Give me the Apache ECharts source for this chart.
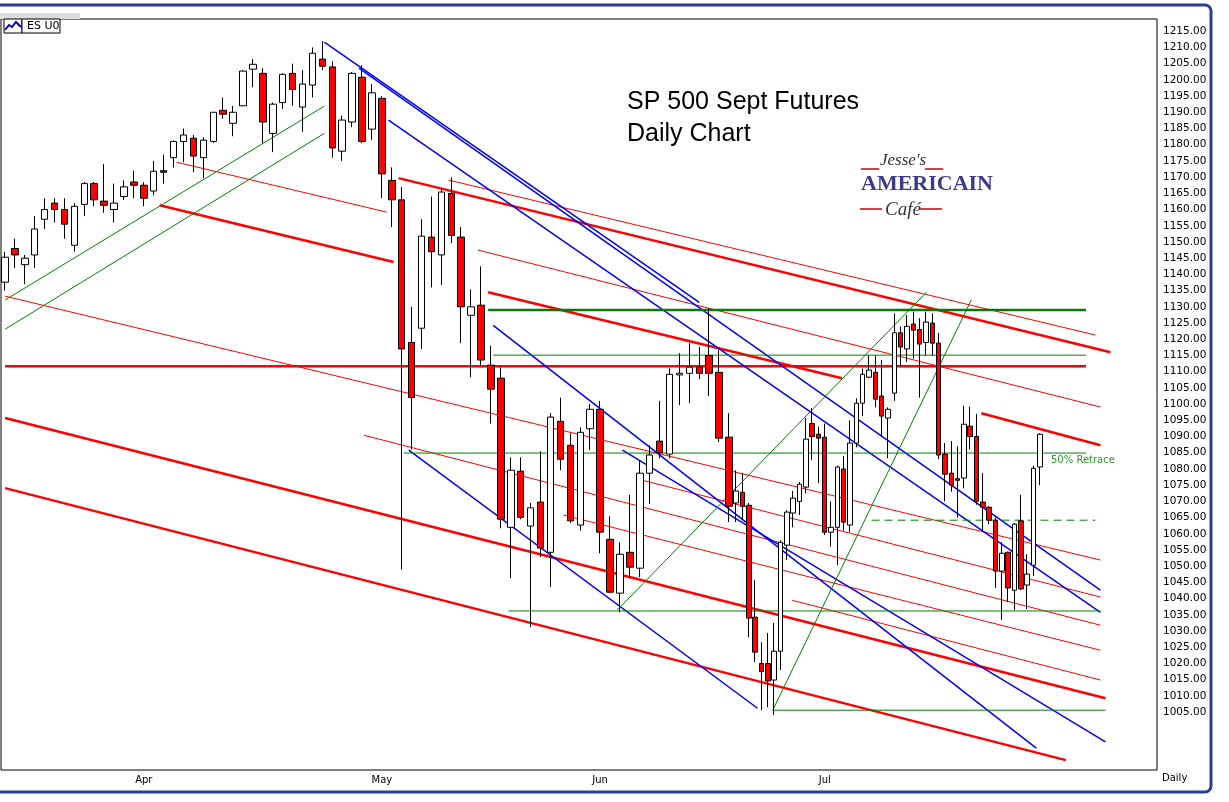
<!DOCTYPE html>
<html><head><meta charset="utf-8">
<script src="https://cdn.jsdelivr.net/npm/echarts@6/dist/echarts.min.js"></script>
<style>html,body{margin:0;padding:0;background:#fff}#c{width:1229px;height:802px}</style>
</head><body><div id="c"></div>
<script>
const opens  = [1137.6,1148,1143,1146,1157,1162,1160,1149,1161.6,1168,1162.6,1160,1164,1168.5,1167.5,1165.7,1172,1176,1181,1182,1176,1181,1190.6,1186.6,1192,1203.3,1202,1183.5,1193,1202,1191.6,1198.4,1206.4,1204,1178,1187,1200.8,1184.8,1194.3,1169,1163,1119,1123.4,1151.5,1146,1165,1151.5,1127.4,1130.5,1112,1108,1062,1079.3,1062.4,1069.8,1054.3,1094.7,1087.3,1062.7,1092.4,1098.4,1058.3,1041.7,1054.3,1049.4,1078.7,1088.6,1084.6,1109,1109.5,1111.4,1115,1109.8,1089.8,1069.5,1072.8,1068.8,1034.3,1020,1020,1014.9,1023.8,1056.5,1066.4,1070,1074.4,1094,1090.7,1089.8,1060.5,1062,1080,1062.7,1088,1100.3,1108.3,1109.8,1102.5,1095.7,1103.4,1122,1117,1124.7,1123,1119,1125,1118.8,1084.6,1078.7,1077,1077.2,1093.2,1090,1069.8,1068.2,1064.2,1048.5,1054.3,1042.6,1064,1044.2,1050.3,1080.6];
const closes = [1145.3,1146,1145,1154,1160,1160,1155.5,1161,1168,1163,1161.3,1162,1167,1167.5,1163.5,1171.8,1171.5,1181,1183,1176.5,1181.4,1190,1189.4,1190,1202.7,1204.8,1187,1192.5,1201.7,1197,1198.7,1208.2,1204.2,1179,1187.6,1202,1181,1196,1171,1163,1117,1102,1151.8,1147,1165.4,1152,1130,1130,1113.6,1104.6,1064.5,1079.6,1065.1,1068,1055.6,1096,1083,1064,1091.3,1098.4,1060.5,1042,1053.7,1049.7,1078.7,1084.3,1085,1109.2,1109.5,1111.4,1109.5,1109.5,1089.5,1068.5,1073.2,1068.5,1034,1023.5,1017.5,1014.6,1023.8,1057.4,1066.7,1071,1075.3,1089.2,1090,1089.5,1060.5,1062,1080.6,1063.6,1088,1100.3,1109.2,1110.5,1101.5,1096.3,1098.4,1122,1117.6,1124,1122.8,1118.5,1125.3,1118.8,1084.3,1078.4,1075,1076.5,1093.8,1090,1070,1068.2,1064.2,1048.5,1054,1043.3,1063,1043,1047.6,1080.2,1090.7];
const lows   = [1135,1142,1137,1142,1154,1156,1151,1147,1158,1161,1159,1156,1163,1163.5,1161,1164.4,1168,1173,1174.6,1171.5,1169.7,1180.5,1188,1182.6,1191.9,1197.7,1180.5,1177.7,1191,1192,1184,1194.6,1203,1176,1175,1185.4,1180.5,1181.4,1163.5,1154.6,1049,1086,1117,1136,1136.7,1149.6,1118.8,1108.3,1112,1094,1061.7,1046.3,1064.5,1031.2,1052.8,1043.6,1079.6,1063.3,1061,1085.8,1054,1041.7,1035.8,1046.3,1046.6,1069.2,1083.3,1083.3,1099.7,1100.3,1107.7,1102.5,1088.3,1063.6,1063.6,1064.2,1028.1,1020.4,1005.6,1006.5,1004.1,1018,1052,1062,1065.8,1072.5,1082.7,1075.6,1059.6,1056,1050.3,1061,1060.5,1086.7,1096.3,1108,1099,1090,1083.3,1101,1112,1113,1114,1102,1115,1115,1083,1070,1073,1065,1074,1086,1069,1061,1063,1043.3,1033.4,1039,1036.5,1042.6,1036.8,1047,1075];
const highs  = [1147,1151,1146,1158,1163.5,1163.5,1163.5,1162,1168.5,1168.5,1174,1168,1169,1172,1168.4,1175,1177,1181.4,1185,1183,1182.3,1190,1194.6,1192,1203,1206.4,1203.6,1193,1202,1205,1203,1210,1212,1205.7,1189,1202.4,1204.5,1198.7,1195,1173,1167,1130,1157,1164,1166.6,1170,1154.6,1135.4,1142.5,1118,1111.4,1083.6,1083.6,1069.5,1085.5,1097.2,1102,1091,1092.8,1100,1101,1065.4,1057.4,1072,1082.7,1087.3,1101,1111,1115.7,1118.8,1117.6,1129.6,1116.6,1097.2,1079.6,1078.7,1069.5,1045.7,1026.6,1029.4,1032.5,1058,1067.3,1073.2,1076,1095.7,1098.8,1093,1094,1070,1081,1084,1095,1101.8,1111,1115,1115,1113.6,1099,1128,1124,1127.5,1128.5,1126.5,1128.5,1128,1122,1088,1088.6,1087,1099.5,1099.2,1097,1078.7,1068.5,1065,1057.4,1054.5,1063.3,1072,1053.7,1081,1091];
// the reference plot draws the early bars wider apart than the later ones
const SPLIT = 74;                        // bars before this index use the wide section
const monthTicksA = {14:'Apr', 38:'May', 60:'Jun'};
const monthTicksB = {14:'Jul'};          // index within the narrow section
const yTicksMin = 1005, yTicksMax = 1215;
const LINE_SLOTS = 137;
// trend lines: [startSlot, startValue, endSlot, endValue]
const redThick = [[0.1,1074.1,125.7,990.2],[0.1,1095.7,130.4,1009.3],[0.1,1111.7,128.1,1111.7],[18.4,1161.3,46.1,1143.8],[46.7,1169.7,131,1116.0],[57.3,1134.5,99.2,1108.0],[115.7,1097.2,129.8,1087.3]];
const redThin = [[0.1,1133.3,129.8,1051.9],[20.4,1174.6,45.3,1159.2],[52.6,1169.1,129.2,1121.3],[56.1,1147.5,129.8,1099.1],[42.6,1090.4,129.8,1031.8],[66.2,1065.8,129.8,1024.1],[93.3,1039.5,129.8,1014.9],[75.6,1076.5,129.8,1040.5]];
const blueLines = [[37.9,1211.6,82.3,1131.4],[42,1203.6,129.8,1042.6],[45.5,1187.6,129.8,1035.8],[47.9,1085.8,89.2,1006.2],[57.9,1124.3,122.2,993.9],[73.2,1085.8,130.4,995.8]];
const greenThick = [[57.3,1129.0,128.1,1129.0]];
const greenThin = [[57.9,1115.1,128.1,1115.1],[47.3,1084.9,128.1,1084.9],[59.7,1036.2,129.8,1036.2],[91,1005.6,130.4,1005.6],[0.1,1132.1,37.9,1191.9],[0.1,1123.1,37.9,1183.5],[72.6,1036.5,109.2,1134.5],[91,1005.6,114.5,1132.1]];
const greenDashed = [[102.7,1064.2,129.2,1064.2]];

const candles = opens.map((o, i) => [o, closes[i], lows[i], highs[i]]);
const candA = candles.slice(0, SPLIT), candB = candles.slice(SPLIT);
const catsA = candA.map((_, i) => monthTicksA[i] || String(i));
const catsB = candB.map((_, i) => monthTicksB[i] || String(i));
const YMIN = 985, YMAX = 1220;
function seg(arr, color, width, type) {
  return arr.map(s => ({type:'line', xAxisIndex:0, yAxisIndex:0, data:[[s[0],s[1]],[s[2],s[3]]],
    symbol:'none', silent:true, z:1, lineStyle:{color, width, type:type||'solid'}}));
}
const lbl = {interval:0, margin:-2, fontFamily:'DejaVu Sans', fontSize:10, color:'#000', formatter:v => isNaN(+v) ? v : ''};
const hiddenY = i => ({type:'value', gridIndex:i, min:YMIN, max:YMAX, show:false});
const chart = echarts.init(document.getElementById('c'));
chart.setOption({
  animation:false,
  grid:[{left:-5, width:1162, top:15, bottom:25},
        {left:-6, width:740, top:15, bottom:25},
        {left:733, width:310, top:15, bottom:25}],
  xAxis:[{type:'value', gridIndex:0, min:-0.5, max:LINE_SLOTS-0.5, show:false},
         {type:'category', gridIndex:1, data:catsA, axisLine:{show:false}, axisTick:{show:false}, axisLabel:lbl},
         {type:'category', gridIndex:2, data:catsB, axisLine:{show:false}, axisTick:{show:false}, axisLabel:lbl}],
  yAxis:[{type:'value', gridIndex:0, position:'right', min:YMIN, max:YMAX, interval:5,
    axisLine:{show:false}, axisTick:{show:false}, splitLine:{show:false},
    axisLabel:{margin:6, fontFamily:'DejaVu Sans', fontSize:10.5, color:'#000',
      formatter:v => (v>=yTicksMin && v<=yTicksMax) ? v.toFixed(2) : ''}},
    hiddenY(1), hiddenY(2)],
  graphic:[
    {type:'rect', shape:{x:1,y:19,width:1156,height:751}, style:{fill:'none',stroke:'#000',lineWidth:1}, silent:true},
    {type:'rect', shape:{x:-5,y:5,width:1216,height:787,r:6}, style:{fill:'none',stroke:'#2a3f8f',lineWidth:3}, silent:true},
    {type:'rect', shape:{x:0,y:13,width:80,height:6}, style:{fill:'#ddd'}},
    {type:'rect', shape:{x:4,y:19,width:18,height:14}, style:{fill:'#fff',stroke:'#000',lineWidth:1}},
    {type:'polyline', shape:{points:[[5,30],[9,25],[12,27],[16,22],[21,27]]}, style:{stroke:'#0000cc',lineWidth:2,fill:'none'}},
    {type:'rect', shape:{x:22,y:19,width:38,height:14}, style:{fill:'#fff',stroke:'#000',lineWidth:1}},
    {type:'text', left:27, top:21, style:{text:'ES U0', font:'11px DejaVu Sans', fill:'#000'}},
    {type:'text', left:627, top:86, style:{text:'SP 500 Sept Futures\nDaily Chart', font:'25px Liberation Sans', lineHeight:32, fill:'#000'}},
    {type:'text', left:880, top:152, style:{text:"Jesse's", font:'italic 17px Liberation Serif', fill:'#333'}},
    {type:'text', left:861, top:173, style:{text:'AMERICAIN', font:'bold 22px Liberation Sans Narrow', fill:'#3a3a8a'}},
    {type:'text', left:885, top:200, style:{text:'Café', font:'italic 19px Liberation Serif', fill:'#333'}},
    {type:'rect', shape:{x:861,y:168,width:18,height:2}, style:{fill:'#c44'}},
    {type:'rect', shape:{x:925,y:168,width:18,height:2}, style:{fill:'#c44'}},
    {type:'rect', shape:{x:860,y:208,width:22,height:2}, style:{fill:'#c44'}},
    {type:'rect', shape:{x:920,y:208,width:22,height:2}, style:{fill:'#c44'}},
    {type:'text', left:1051, top:455, style:{text:'50% Retrace', font:'10px DejaVu Sans', fill:'#2a9a2a'}},
    {type:'text', left:1162, top:773, style:{text:'Daily', font:'10px DejaVu Sans', fill:'#000'}}
  ],
  series:[
    ...seg(redThick,'#ff0000',2.5),
    ...seg(redThin,'#ff0000',1),
    ...seg(blueLines,'#0000ff',1.5),
    ...seg(greenThick,'#008000',2.5),
    ...seg(greenThin,'#008000',1),
    ...seg(greenDashed,'#008000',1,[8,5]),
    {type:'candlestick', xAxisIndex:1, yAxisIndex:1, data:candA, barWidth:7, z:5,
     itemStyle:{color:'#ffffff', color0:'#ff0000', borderColor:'#000', borderColor0:'#000', borderWidth:1}},
    {type:'candlestick', xAxisIndex:2, yAxisIndex:2, data:candB, barWidth:5, z:5,
     itemStyle:{color:'#ffffff', color0:'#ff0000', borderColor:'#000', borderColor0:'#000', borderWidth:1}}
  ]
});
</script></body></html>
